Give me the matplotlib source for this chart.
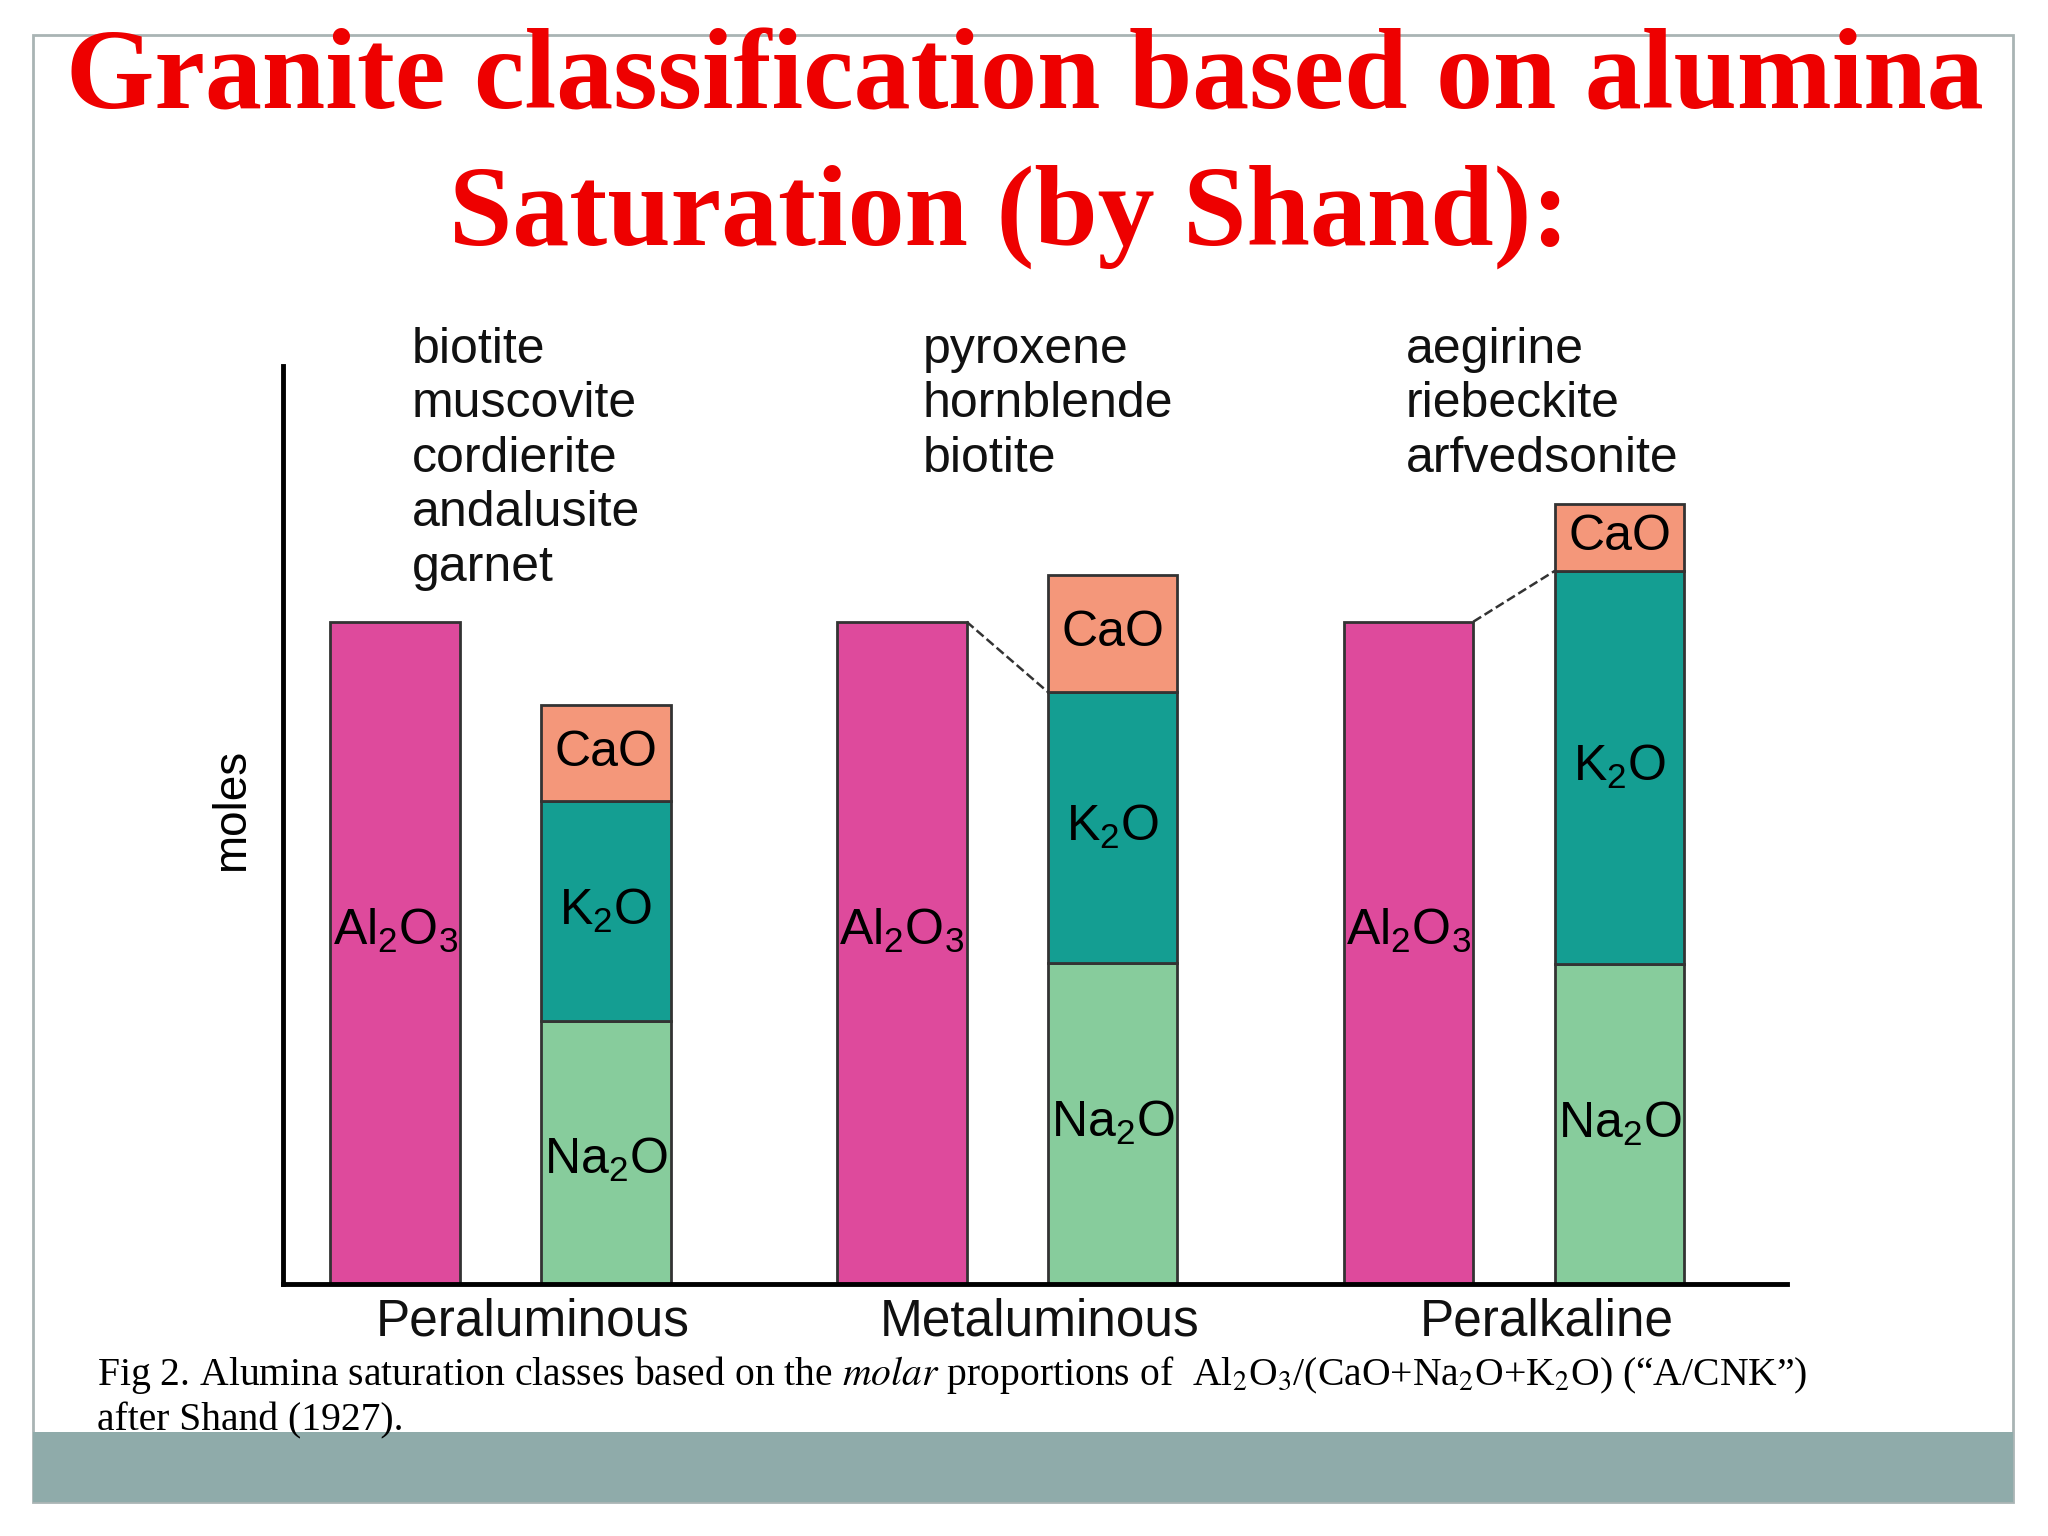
import matplotlib
matplotlib.use("Agg")
import matplotlib.pyplot as plt
from matplotlib.patches import Rectangle

plt.rcParams['mathtext.fontset'] = 'custom'
plt.rcParams['mathtext.rm'] = 'Liberation Sans'
plt.rcParams['mathtext.it'] = 'Liberation Sans'

categories = ["Peraluminous", "Metaluminous", "Peralkaline"]
al2o3 = [507, 507, 507]
na2o = [201, 246, 245]
k2o = [169, 207, 301]
cao = [73, 90, 51]
minerals = ["biotite\nmuscovite\ncordierite\nandalusite\ngarnet",
            "pyroxene\nhornblende\nbiotite",
            "aegirine\nriebeckite\narfvedsonite"]

W, H = 1568, 1176
fig = plt.figure(figsize=(20.48, 15.36), dpi=100)
bg = fig.add_axes([0, 0, 1, 1]); bg.set_xlim(0, W); bg.set_ylim(H, 0); bg.axis('off')
bg.add_patch(Rectangle((25, 27), 1516, 1123, fill=False, ec='#a9b4b4', lw=2))
bg.add_patch(Rectangle((25, 1096), 1516, 54, color='#8fabaa', lw=0))
bg.text(785, 62, "Granite classification based on alumina", color='#ee0000', fontsize=82,
        family='Liberation Serif', weight='bold', ha='center', va='center')
bg.text(773, 166, "Saturation (by Shand):", color='#ee0000', fontsize=82,
        family='Liberation Serif', weight='bold', ha='center', va='center')
bg.text(74, 1053, r"Fig 2. Alumina saturation classes based on the $\it{molar}$ proportions of  Al$_2$O$_3$/(CaO+Na$_2$O+K$_2$O) (“A/CNK”)",
        fontsize=28.5, family='Liberation Serif', math_fontfamily='stix', ha='left', va='center')
bg.text(74, 1088, "after Shand (1927).", fontsize=28.5, family='Liberation Serif', ha='left', va='center')
bg.text(178, 620, "moles", fontsize=33, family='Liberation Sans', rotation=90, ha='center', va='center')

ax = fig.add_axes([217/W, 1-983/H, (1368-217)/W, (983-280)/H])
ax.set_xlim(217, 1368); ax.set_ylim(0, 703)
for s in ['top', 'right']:
    ax.spines[s].set_visible(False)
for s in ['left', 'bottom']:
    ax.spines[s].set_linewidth(3.5)
ax.set_xticks([]); ax.set_yticks([])

bw = 99
fs = 36
for i, cat in enumerate(categories):
    x1 = 302.5 + i * 388
    x2 = x1 + 161.5
    ax.bar(x1, al2o3[i], bw, color='#de4a9c', ec='#333', lw=2)
    ax.bar(x2, na2o[i], bw, color='#87cc9c', ec='#333', lw=2)
    ax.bar(x2, k2o[i], bw, bottom=na2o[i], color='#149e92', ec='#333', lw=2)
    ax.bar(x2, cao[i], bw, bottom=na2o[i] + k2o[i], color='#f4977a', ec='#333', lw=2)
    ax.text(x1, 270, r"Al$_2$O$_3$", fontsize=fs, ha='center', va='center', family='Liberation Sans')
    ax.text(x2, na2o[i] * 0.5 if i else 95, r"Na$_2$O", fontsize=fs, ha='center', va='center', family='Liberation Sans')
    ax.text(x2, na2o[i] + k2o[i] / 2, r"K$_2$O", fontsize=fs, ha='center', va='center', family='Liberation Sans')
    ax.text(x2, na2o[i] + k2o[i] + cao[i] / 2, "CaO", fontsize=fs, ha='center', va='center', family='Liberation Sans')
    ax.text(x1 + 13 + (i == 1) * 3 + (i == 2) * -15, 983 - 250, minerals[i], fontsize=36, ha='left', va='top',
            family='Liberation Sans', linespacing=1.24, clip_on=False, color='#111')
    ax.text((x1 + x2) / 2 + 25, -29, cat, fontsize=37, ha='center', va='center',
            family='Liberation Sans', clip_on=False, color='#111')
    if i > 0:
        ax.plot([x1 + bw / 2, x2 - bw / 2], [al2o3[i], na2o[i] + k2o[i]], ls='--', color='#333', lw=1.8)

fig.savefig("out.png", dpi=100)
